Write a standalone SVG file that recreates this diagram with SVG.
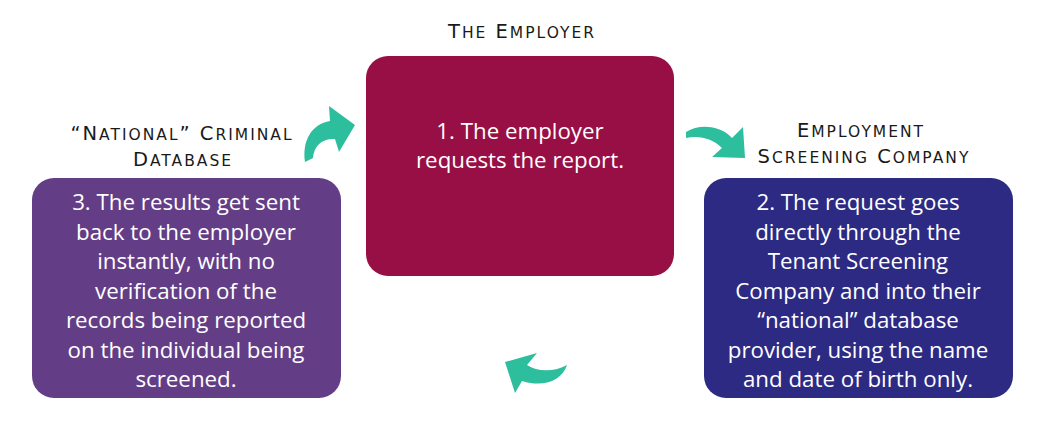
<svg xmlns="http://www.w3.org/2000/svg" width="1038" height="432" viewBox="0 0 1038 432">
<style>
.box text{font-family:"Open Sans","Liberation Sans",sans-serif;font-size:22.3px;fill:#fff;text-anchor:middle}
.lbl{font-family:"DejaVu Sans","Open Sans",sans-serif;font-size:19.5px;fill:#1a1a1a;text-anchor:middle;letter-spacing:2px}
.sc{font-size:15.5px}
.arrow{fill:#2DBE9E}
</style>
<rect width="1038" height="432" fill="#fff"/>
<g id="employer" class="box">
<rect x="366" y="56" width="308" height="220" rx="22" fill="#970F45"/>
<text x="520" y="139">1. The employer</text>
<text x="520" y="168">requests the report.</text>
</g>
<g id="database" class="box">
<rect x="32" y="178" width="309" height="220" rx="22" fill="#633E86"/>
<text x="186" y="210">3. The results get sent</text>
<text x="186" y="239.5">back to the employer</text>
<text x="186" y="269">instantly, with no</text>
<text x="186" y="298.5">verification of the</text>
<text x="186" y="328">records being reported</text>
<text x="186" y="357.5">on the individual being</text>
<text x="186" y="387">screened.</text>
</g>
<g id="screening" class="box">
<rect x="704" y="178" width="309" height="220" rx="22" fill="#2C2A83"/>
<text x="858" y="210">2. The request goes</text>
<text x="858" y="239.5">directly through the</text>
<text x="858" y="269">Tenant Screening</text>
<text x="858" y="298.5">Company and into their</text>
<text x="858" y="328">“national” database</text>
<text x="858" y="357.5">provider, using the name</text>
<text x="858" y="387">and date of birth only.</text>
</g>
<g id="labels">
<text class="lbl" x="522" y="38">T<tspan class="sc">HE</tspan> E<tspan class="sc">MPLOYER</tspan></text>
<text class="lbl" x="182" y="140">“N<tspan class="sc">ATIONAL</tspan>” C<tspan class="sc">RIMINAL</tspan></text>
<text class="lbl" x="183" y="166">D<tspan class="sc">ATABASE</tspan></text>
<text class="lbl" x="861" y="137">E<tspan class="sc">MPLOYMENT</tspan></text>
<text class="lbl" x="864" y="163">S<tspan class="sc">CREENING</tspan> C<tspan class="sc">OMPANY</tspan></text>
</g>
<g id="connectors">
<path class="arrow" d="M305,162 C302,140 312,124 330,121 L329,106 L355,125 L339,152 L335,139 C322,138 314,146 313,158 Z"/>
<path class="arrow" d="M686,132 C700,123 722,126 732,138 L743,127 L745,158 L712,157 L722,148 C713,139 700,135 686,138 Z"/>
<path class="arrow" d="M527,365 C537,372 555,372 567,365 C562,380 545,388 522,381 L515,393 L505,362 L537,353 Z"/>
</g>
</svg>
